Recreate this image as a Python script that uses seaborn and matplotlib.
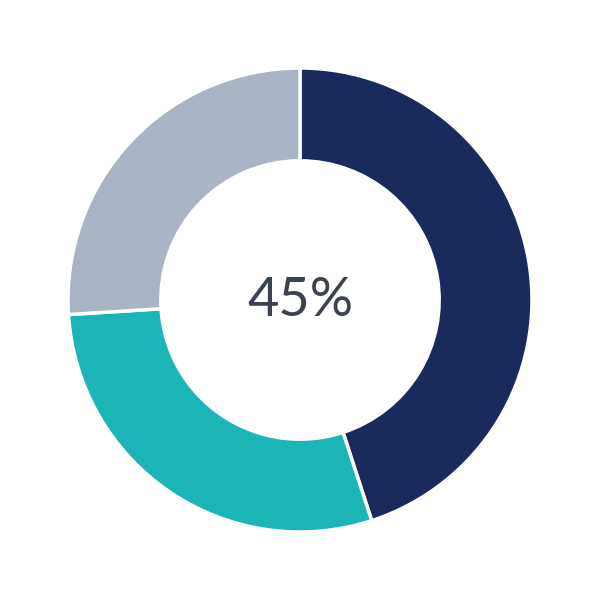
import seaborn as sns
import matplotlib.pyplot as plt

# Slice data
labels = ["Segment A", "Segment B", "Segment C"]
shares = [45, 29, 26]
colors = ["#1b2a5c", "#1bb5b7", "#a9b4c4"]
center_label = "45%"

sns.set_style("white")
plt.rcParams["font.family"] = ["Lato", "DejaVu Sans"]

fig = plt.figure(figsize=(6, 6), dpi=100)
ax = fig.add_axes([0, 0, 1, 1])

ax.pie(shares, colors=colors, startangle=90, counterclock=False, radius=1,
       wedgeprops=dict(width=0.4, edgecolor="white", linewidth=2.5))

ax.text(0, 0, center_label, ha="center", va="center", fontsize=39, color="#3b4250")

lim = 300 / 232
ax.set_xlim(-lim, lim)
ax.set_ylim(-lim, lim)
ax.set_aspect("equal")
ax.axis("off")

fig.savefig("out.png", dpi=100)
plt.close()
